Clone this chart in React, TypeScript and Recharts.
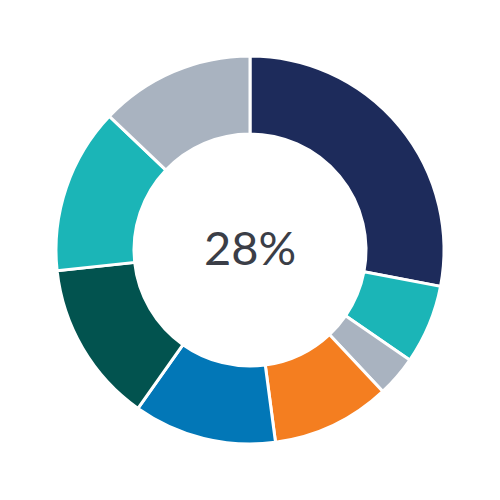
import React from "react";
import { PieChart, Pie, Cell } from "recharts";

const categories = ["A", "B", "C", "D", "E", "F", "G", "H"];
const values = [28, 6.6, 3.4, 9.9, 11.9, 13.5, 13.8, 12.9];
const colors = ["#1d2b5b", "#1bb5b7", "#a9b3c0", "#f47e20", "#0277b7", "#02534f", "#1bb5b7", "#a9b3c0"];
const centerLabel = "28%";

const data = categories.map((name, i) => ({ name, value: values[i] }));

export default function App() {
  return (
    <div style={{ position: "absolute", left: 0, top: 0, width: 500, height: 500, background: "#fff" }}>
      <PieChart width={500} height={500} margin={{ top: 0, right: 0, bottom: 0, left: 0 }}>
        <Pie
          data={data}
          dataKey="value"
          nameKey="name"
          cx={250}
          cy={250}
          innerRadius={116}
          outerRadius={194}
          startAngle={90}
          endAngle={-270}
          stroke="#ffffff"
          strokeWidth={3}
          isAnimationActive={false}
        >
          {data.map((d, i) => (
            <Cell key={d.name} fill={colors[i]} />
          ))}
        </Pie>
        <text
          x={250}
          y={247}
          textAnchor="middle"
          dominantBaseline="central"
          style={{ fontFamily: "Lato, sans-serif", fontSize: 47, fill: "#3b3e47" }}
        >
          {centerLabel}
        </text>
      </PieChart>
    </div>
  );
}
